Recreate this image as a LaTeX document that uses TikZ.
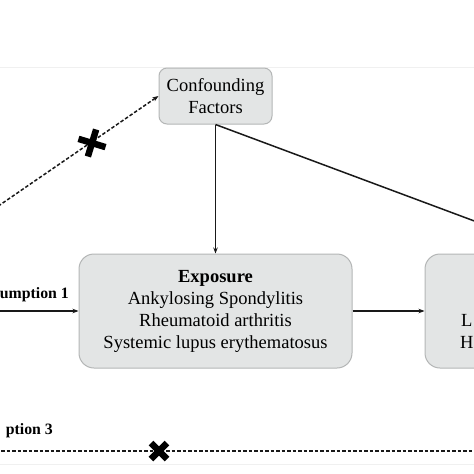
\documentclass[tikz,border=0pt]{standalone}
\usepackage{fontspec}
\setmainfont{Liberation Serif}
\usetikzlibrary{arrows.meta}
\definecolor{boxfill}{HTML}{E3E5E5}
\definecolor{boxline}{HTML}{B4B6B6}
\tikzset{
  box/.style={draw=boxline, fill=boxfill, line width=1pt, align=center,
    font=\fontsize{18.5}{22}\selectfont, inner sep=0pt},
  conn/.style={line width=1.5pt, draw=black!90},
  arr/.style={conn, -{Stealth[length=6pt,width=4.5pt]}},
  dashedconn/.style={line width=1.5pt, draw=black!90, dash pattern=on 3.5pt off 2pt},
  xmark/.style={line width=6.5pt, black, line cap=butt},
  lbl/.style={font=\fontsize{15.8}{19}\selectfont\bfseries, inner sep=0pt},
  body/.style={font=\fontsize{18.5}{22}\selectfont, inner sep=0pt},
  faint/.style={draw=black!6, line width=0.8pt}
}
\begin{document}
\begin{tikzpicture}[x=1pt,y=-1pt]
\clip (0,0) rectangle (474,474);
\fill[white] (0,0) rectangle (474,474);
\draw[faint] (0,67) -- (474,67);
\draw[faint] (0,464) -- (474,464);

\node[box, rounded corners=8pt, minimum width=113pt, minimum height=56pt] (conf) at (215.5,96) {Confounding\\Factors};
\node[box, rounded corners=15pt, minimum width=273pt, minimum height=114pt] (exp) at (215.5,311) {\textbf{Exposure}\\Ankylosing Spondylitis\\Rheumatoid arthritis\\Systemic lupus erythematosus};
\node[box, rounded corners=15pt, minimum width=273pt, minimum height=114pt] (out) at (561.5,311) {};
\node[body, anchor=base west] (tl) at (461,326) {L};
\node[body, anchor=base west] (th) at (460,348) {H};

\node[lbl, anchor=base east] (a1) at (69,298) {umption 1};
\node[lbl, anchor=base east] (a3) at (53,434) {ption 3};

\coordinate (a1s) at (-10,311);
\coordinate (dstart) at (-20,218.6);
\coordinate (b3s) at (-10,451);
\coordinate (b3e) at (484,451);

\draw[arr] (conf.south) -- (exp.north);
\draw[conn] (conf.south) -- (out.north);
\draw[arr] (a1s) -- (exp.west);
\draw[arr] (exp.east) -- (out.west);
\draw[dashedconn, -{Stealth[length=6pt,width=4.5pt]}] (dstart) -- (conf.west);
\draw[dashedconn] (b3s) -- (b3e);

\begin{scope}[shift={(92,143)}, rotate=28]
  \draw[xmark] (-10,-10) -- (10,10) (-10,10) -- (10,-10);
\end{scope}
\begin{scope}[shift={(159,451)}]
  \draw[xmark] (-8,-8) -- (8,8) (-8,8) -- (8,-8);
\end{scope}
\end{tikzpicture}
\end{document}
